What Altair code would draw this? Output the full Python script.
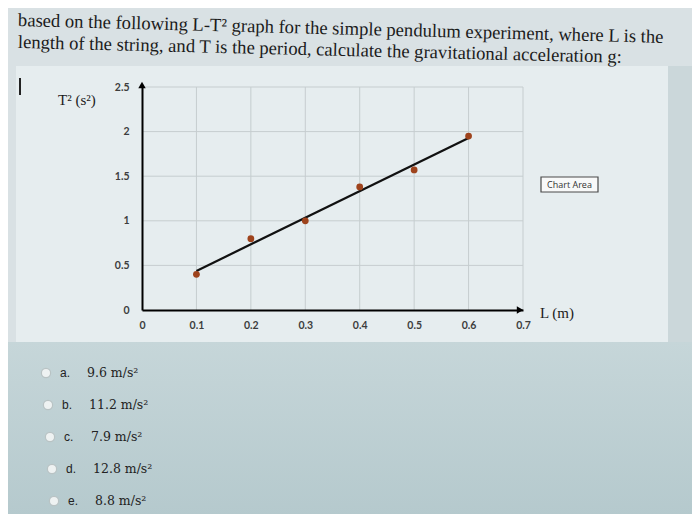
import altair as alt
import pandas as pd

# ---- data ----
L_m = [0.1, 0.2, 0.3, 0.4, 0.5, 0.6]
T2_s2 = [0.40, 0.80, 1.00, 1.38, 1.57, 1.95]
x_ticks = [0, 0.1, 0.2, 0.3, 0.4, 0.5, 0.6, 0.7]
y_ticks = [0, 0.5, 1, 1.5, 2, 2.5]
title_lines = [
    "based on the following L-T\u00b2 graph for the simple pendulum experiment, where L is the",
    "length of the string, and T is the period, calculate the gravitational acceleration g:",
]
option_letters = ["a.", "b.", "c.", "d.", "e."]
option_values = ["9.6 m/s\u00b2", "11.2 m/s\u00b2", "7.9 m/s\u00b2", "12.8 m/s\u00b2", "8.8 m/s\u00b2"]

W, H = 381, 223
pts = pd.DataFrame({"L": L_m, "T2": T2_s2})
one = pd.DataFrame({"k": [0]})
xg = pd.DataFrame({"v": x_ticks[1:]})
yg = pd.DataFrame({"v": y_ticks[1:]})

xs = alt.Scale(domain=[0, 0.7], nice=False, zero=True)
ys = alt.Scale(domain=[0, 2.5], nice=False, zero=True)

layers = []


def rect(x, x2, y, y2, fill, stroke=None, sw=0):
    kw = dict(fill=fill, strokeWidth=sw)
    if stroke:
        kw["stroke"] = stroke
    return alt.Chart(one).mark_rect(**kw).encode(
        x=alt.value(x), x2=alt.value(x2), y=alt.value(y), y2=alt.value(y2)
    )


# backgrounds (photo of a screen)
bottom_grad = alt.LinearGradient(
    gradient="linear",
    x1=0, y1=0, x2=0, y2=1,
    stops=[alt.GradientStop(offset=0, color="#c6d6d9"),
           alt.GradientStop(offset=1, color="#b2c7cb")],
)
layers.append(alt.Chart(one).mark_rect(fill=bottom_grad).encode(
    x=alt.value(-160), x2=alt.value(600), y=alt.value(255), y2=alt.value(460)))
layers.append(rect(526, 600, -21, 255, "#cbd7da"))
layers.append(rect(-126, 526, -21, 255, "#e6edef"))

# grid lines
layers.append(alt.Chart(xg).mark_rule(color="#c6cdcf", strokeWidth=1).encode(
    x=alt.X("v:Q", scale=xs), y=alt.value(0), y2=alt.value(H)))
layers.append(alt.Chart(yg).mark_rule(color="#c6cdcf", strokeWidth=1).encode(
    y=alt.Y("v:Q", scale=ys), x=alt.value(0), x2=alt.value(W)))

axis_common = dict(title=None, grid=False, ticks=False, domainColor="#000000",
                   domainWidth=2, labelFont="Lato", labelFontSize=10.5,
                   labelFontWeight="bold", labelColor="#3d3d3d", zindex=1,
                   labelFlush=False, format="~g")

# data points and fitted line
base = alt.Chart(pts)
layers.append(base.mark_line(color="#111111", strokeWidth=2.2).transform_regression(
    "L", "T2").encode(
    x=alt.X("L:Q", scale=xs, axis=alt.Axis(values=x_ticks, labelPadding=10, **axis_common)),
    y=alt.Y("T2:Q", scale=ys, axis=alt.Axis(values=y_ticks, labelPadding=13, **axis_common)),
))
layers.append(base.mark_circle(color="#9e431c", size=46, opacity=1).encode(
    x=alt.X("L:Q", scale=xs), y=alt.Y("T2:Q", scale=ys)))

# axis arrow heads
layers.append(alt.Chart(pd.DataFrame({"x": [0], "y": [y_ticks[-1]]})).mark_point(
    shape="triangle-up", filled=True, color="#000000", size=55, opacity=1, yOffset=-2).encode(
    x=alt.X("x:Q", scale=xs), y=alt.Y("y:Q", scale=ys)))
layers.append(alt.Chart(pd.DataFrame({"x": [x_ticks[-1]], "y": [0]})).mark_point(
    shape="triangle-right", filled=True, color="#000000", size=55, opacity=1, xOffset=-3).encode(
    x=alt.X("x:Q", scale=xs), y=alt.Y("y:Q", scale=ys)))


def text(t, x, y, size, font="Liberation Serif", color="#1b1b1b", align="left", angle=0,
         weight=None):
    kw = dict(align=align, baseline="middle", font=font, fontSize=size, color=color)
    if angle:
        kw["angle"] = angle
    if weight:
        kw["fontWeight"] = weight
    return alt.Chart(one).mark_text(**kw).encode(
        x=alt.value(x), y=alt.value(y), text=alt.value(t))


# question text
layers.append(text(title_lines[0], -124, -67, 18.6, angle=1.5))
layers.append(text(title_lines[1], -124, -45, 18.6, angle=1.4))

# cursor mark
layers.append(alt.Chart(one).mark_rule(color="#222222", strokeWidth=2).encode(
    x=alt.value(-122), y=alt.value(-9), y2=alt.value(8)))

# axis titles
layers.append(text("T\u00b2 (s\u00b2)", -84, 13, 15))
layers.append(text("L (m)", 398, 226, 15))

# "Chart Area" tooltip box
layers.append(rect(399, 456, 90, 105, "#f8f9f9", "#4a4a4a", 1.2))
layers.append(text("Chart Area", 427.5, 97.5, 9, font="Open Sans", color="#333333", align="center"))

# answer options
for i, (let, val) in enumerate(zip(option_letters, option_values)):
    yy = 286 + 32 * i
    xx = 2 * i
    layers.append(alt.Chart(one).mark_point(
        shape="circle", size=85, filled=True, fill="#eef2f2", stroke="#b9c3c4",
        strokeWidth=1.2, opacity=1).encode(x=alt.value(-96 + xx), y=alt.value(yy)))
    layers.append(text(let, -82 + xx, yy, 12, font="Liberation Sans", color="#222222"))
    layers.append(text(val, -55 + xx, yy, 12.5, font="DejaVu Serif", color="#222222"))

chart = alt.layer(*layers).properties(
    width=W, height=H,
    autosize=alt.AutoSizeParams(type="none"),
    padding={"left": 134, "top": 79, "right": 169, "bottom": 204},
    background="#d9e1e4",
).configure_view(strokeWidth=0)

chart.save("out.html", embed_options={"renderer": "svg", "actions": False})
